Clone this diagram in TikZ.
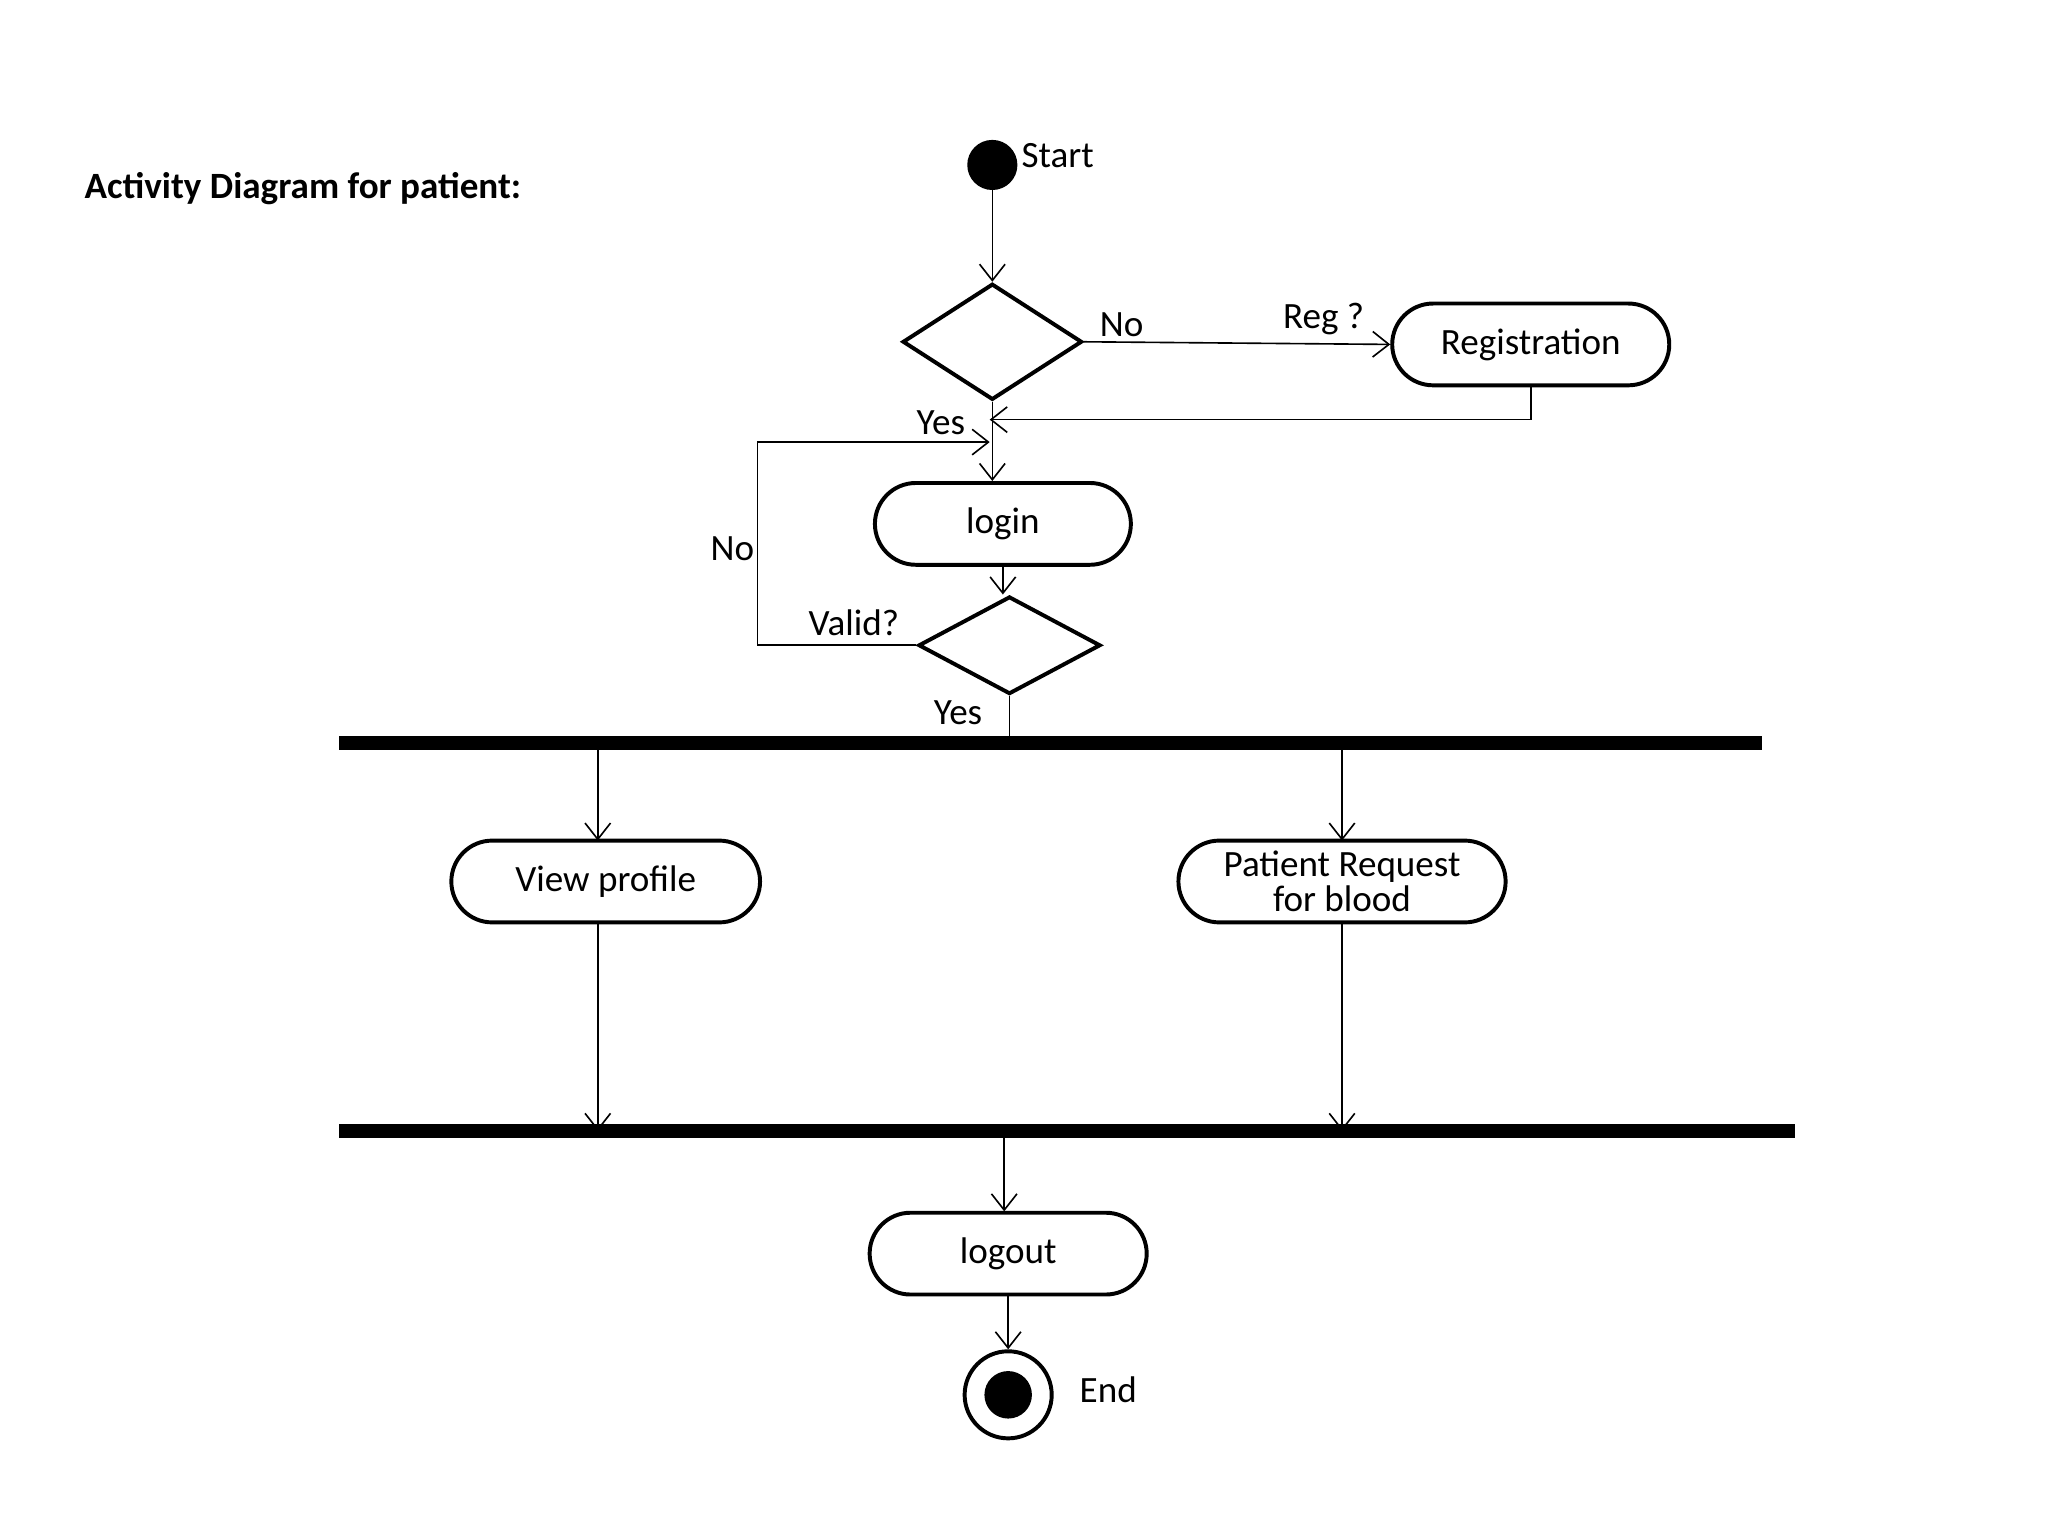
\documentclass[tikz,border=0pt]{standalone}
\usepackage{fontspec}
\setmainfont{Carlito}
\usetikzlibrary{shapes.geometric,arrows.meta}
\begin{document}
\begin{tikzpicture}[x=0.02cm,y=-0.02cm,
  font=\fontsize{16}{19}\selectfont,
  act/.style={draw,line width=1.7pt,rounded corners=0.62cm,minimum height=1.24cm,align=center,inner sep=2pt},
  dec/.style={draw,line width=1.7pt,diamond,aspect=#1,inner sep=0pt},
  con/.style={line width=0.7pt,-{Straight Barb[length=7pt,width=11pt]}},
  ln/.style={line width=0.7pt},
  bar/.style={fill=black,draw=none}]
\useasboundingbox (0,0) rectangle (1552,1164);
\node[anchor=west,font=\fontsize{16}{19}\selectfont\bfseries] (title) at (58,143) {Activity Diagram for patient:};
\node[circle,fill=black,minimum size=0.76cm,inner sep=0] (start) at (752,125) {};
\node[anchor=west] (startl) at (768,118) {Start};
\node[draw,line width=1.7pt,diamond,minimum width=2.72cm,minimum height=1.76cm,inner sep=0] (d1) at (752,259) {};
\node[act,minimum width=4.2cm] (reg) at (1160,261) {Registration};
\node (nol) at (850,246) {No};
\node (regq) at (1003,242) {Reg ?};
\node (yes1) at (713,320) {Yes};
\node[act,minimum width=3.88cm] (login) at (760,397) {login};
\node[draw,line width=1.7pt,diamond,minimum width=2.76cm,minimum height=1.48cm,inner sep=0] (d2) at (765,489) {};
\node (no2) at (555,416) {No};
\node (valid) at (647,472) {Valid?};
\node (yes2) at (726,540) {Yes};
\node[bar,minimum width=21.56cm,minimum height=0.22cm,inner sep=0] (bar1) at (796,563) {};
\node[act,minimum width=4.68cm] (view) at (459,668) {View profile};
\node[act,minimum width=4.96cm,font=\fontsize{16}{15}\selectfont] (req) at (1017,668) {Patient Request\\for blood};
\node[bar,minimum width=22.06cm,minimum height=0.22cm,inner sep=0] (bar2) at (808.5,857) {};
\node[act,minimum width=4.2cm] (logout) at (764,950) {logout};
\node[circle,draw,line width=1.7pt,minimum size=1.32cm,inner sep=0] (end) at (764,1057) {};
\node[circle,fill=black,minimum size=0.72cm,inner sep=0] (endin) at (764,1057) {};
\node[anchor=west] (endl) at (812,1053) {End};
\coordinate (c1) at (750,318);
\coordinate (c2) at (750,335);
\draw[con] (start) -- (d1.north);
\draw[con] (d1.east) -- (reg.west);
\draw[con] (reg.south) |- (c1);
\draw[con] (d1.south) -- (d1.south |- login.north);
\draw[con] (login.south) -- (login.south |- d2.north);
\draw[con] (d2.west) -| (574,335) -- (c2);
\draw[ln] (d2.south) -- (765,558);
\draw[con] (453,568) -- (453,637);
\draw[con] (1017,568) -- (1017,637);
\draw[con] (view.south -| 453,0) -- (453,857);
\draw[con] (req.south) -- (1017,857);
\draw[con] (761,862) -- (761,918);
\draw[con] (logout.south) -- (end.north);
\end{tikzpicture}
\end{document}
